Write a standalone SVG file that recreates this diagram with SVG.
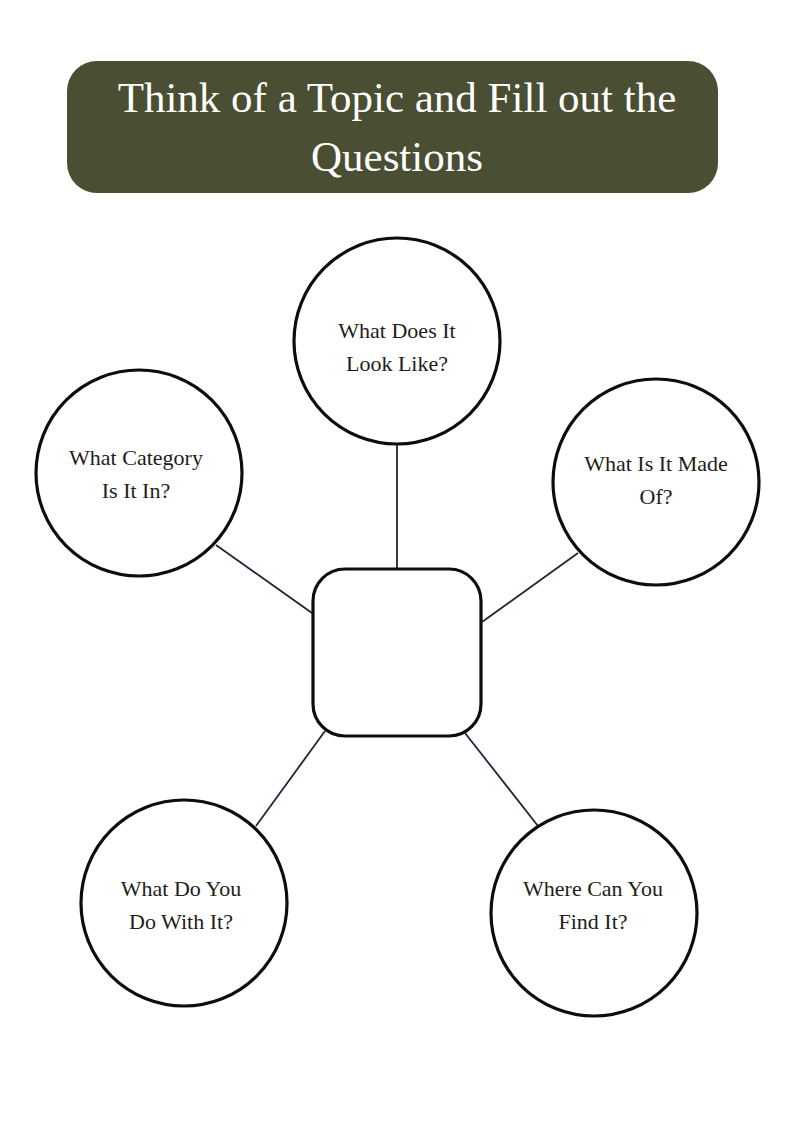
<svg xmlns="http://www.w3.org/2000/svg" width="794" height="1122" viewBox="0 0 794 1122">
<style>
.node{fill:#ffffff;stroke:#0d0d0d;stroke-width:3.2}
.lbl{font-family:"Liberation Serif","DejaVu Serif",serif;font-size:22px;fill:#1e1e18;text-anchor:middle}
.title{font-family:"Liberation Serif","DejaVu Serif",serif;font-size:43px;fill:#ffffff;text-anchor:middle}
.conn{stroke:#1d2738;stroke-width:1.8;fill:none}
</style>
<rect width="794" height="1122" fill="#ffffff"/>
<g id="title">
<rect x="67" y="61" width="651" height="132" rx="30" fill="#4a4e33"/>
<text class="title" x="397" y="112">Think of a Topic and Fill out the</text>
<text class="title" x="397" y="171">Questions</text>
</g>
<g id="connectors">
<line class="conn" x1="397" y1="445" x2="397" y2="568"/>
<line class="conn" x1="216" y1="545" x2="312" y2="613"/>
<line class="conn" x1="578" y1="553" x2="482" y2="622"/>
<line class="conn" x1="256" y1="826" x2="325" y2="731"/>
<line class="conn" x1="465" y1="733" x2="538" y2="826"/>
</g>
<g id="center">
<rect class="node" x="313" y="569" width="168" height="167" rx="32"/>
</g>
<g id="look">
<circle class="node" cx="397" cy="341" r="103"/>
<text class="lbl" x="397" y="338">What Does It</text>
<text class="lbl" x="397" y="371">Look Like?</text>
</g>
<g id="category">
<circle class="node" cx="139" cy="473" r="103"/>
<text class="lbl" x="136" y="465">What Category</text>
<text class="lbl" x="136" y="498">Is It In?</text>
</g>
<g id="made">
<circle class="node" cx="656" cy="482" r="103"/>
<text class="lbl" x="656" y="471">What Is It Made</text>
<text class="lbl" x="656" y="504">Of?</text>
</g>
<g id="do">
<circle class="node" cx="184" cy="903" r="103"/>
<text class="lbl" x="181" y="896">What Do You</text>
<text class="lbl" x="181" y="929">Do With It?</text>
</g>
<g id="find">
<circle class="node" cx="594" cy="913" r="103"/>
<text class="lbl" x="593" y="896">Where Can You</text>
<text class="lbl" x="593" y="929">Find It?</text>
</g>
</svg>
